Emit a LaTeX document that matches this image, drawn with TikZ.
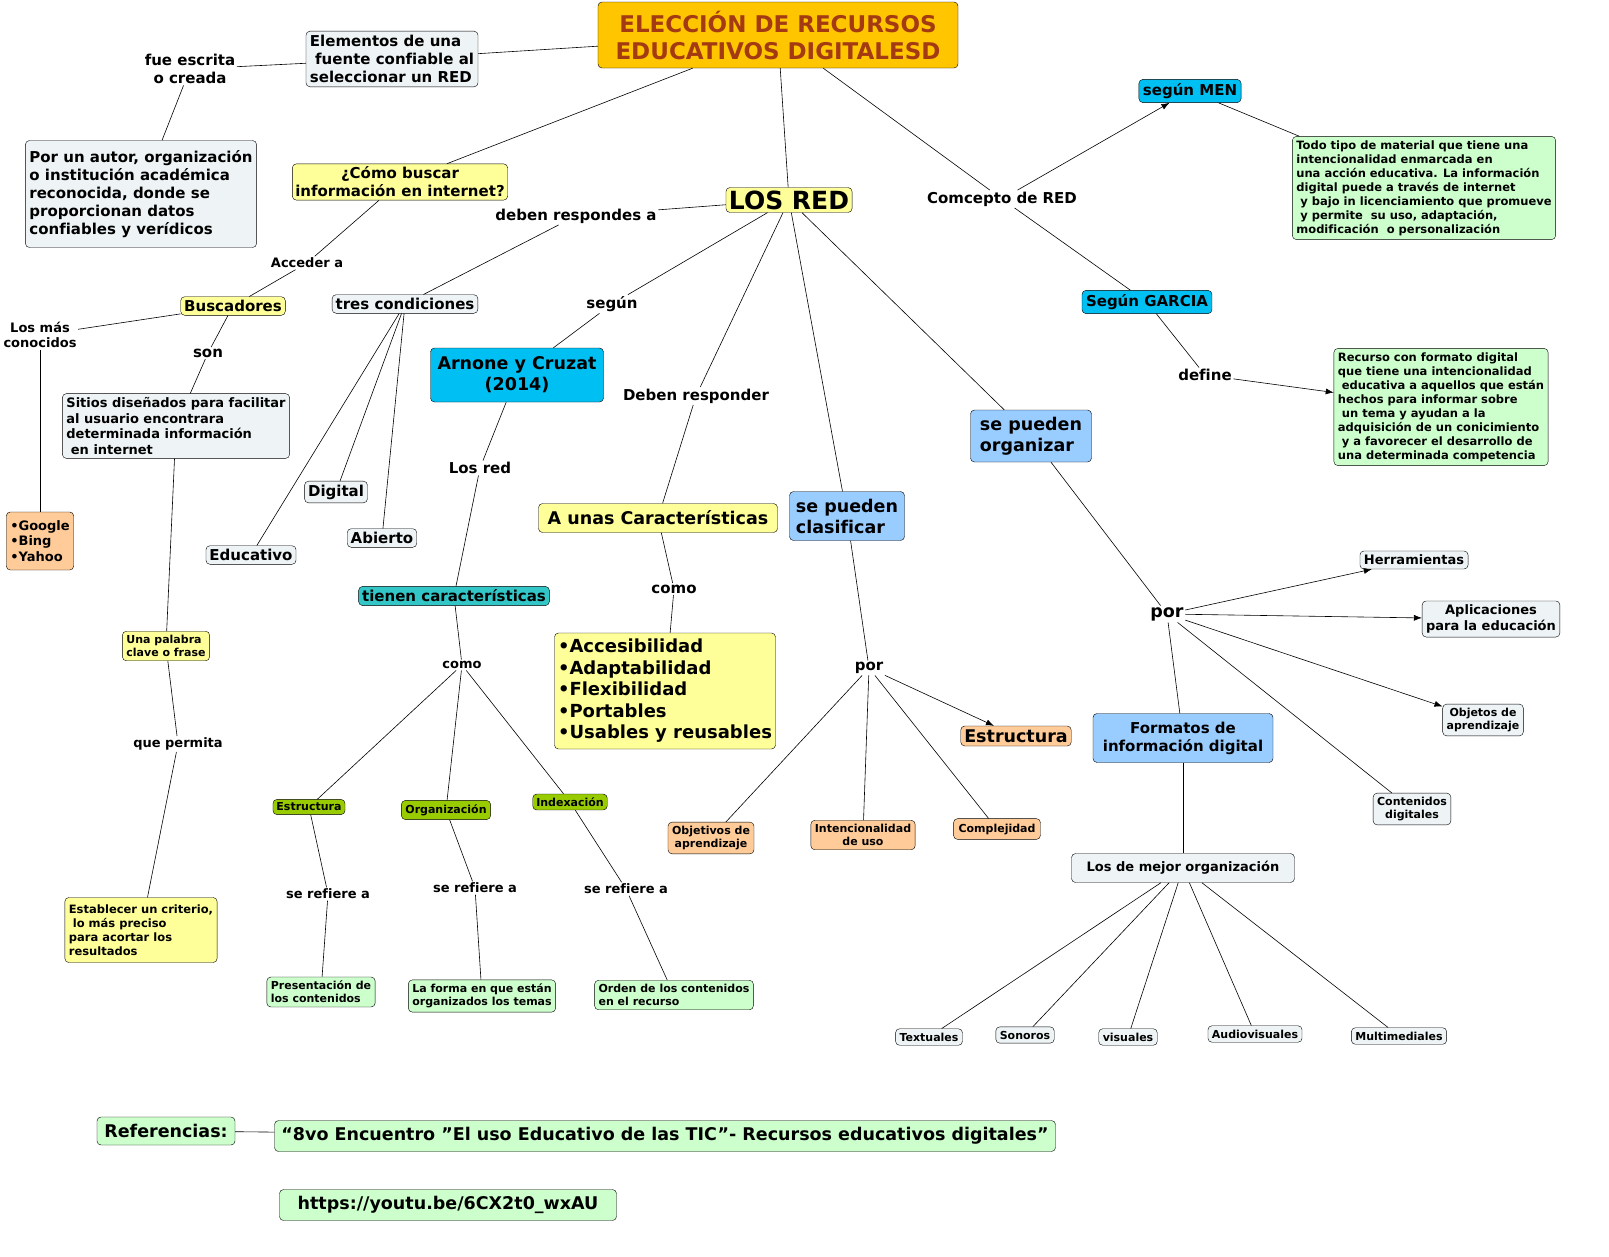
\documentclass[tikz,border=0pt]{standalone}
\usepackage{fontspec}
\setmainfont{DejaVu Sans}[Ligatures=NoCommon]
\usetikzlibrary{arrows.meta}
\definecolor{cgray}{HTML}{EEF4F6}
\definecolor{cyel}{HTML}{FFFF99}
\definecolor{ccyan}{HTML}{00BFF3}
\definecolor{cgreen}{HTML}{CCFFCC}
\definecolor{corange}{HTML}{FFCC99}
\definecolor{cblue}{HTML}{99CCFF}
\definecolor{cteal}{HTML}{33C6C6}
\definecolor{clime}{HTML}{99CC00}
\definecolor{ctitle}{HTML}{FFC600}
\definecolor{ctitletext}{HTML}{A33A12}
\begin{document}
\begin{tikzpicture}[x=1pt,y=-1pt,
 box/.style={draw, rounded corners=4pt, inner sep=4pt, align=center},
 lab/.style={inner sep=1.5pt, align=center},
 f15/.style={font=\fontsize{17.5}{21}\selectfont\bfseries},
 f13/.style={font=\fontsize{15}{18}\selectfont\bfseries},
 f11/.style={font=\fontsize{13}{15.5}\selectfont\bfseries},
 f10/.style={font=\fontsize{11.5}{14}\selectfont\bfseries},
 f9/.style={font=\fontsize{11}{13}\selectfont\bfseries},
 line/.style={draw, line width=0.6pt},
 arr/.style={draw, line width=0.6pt, -{Latex[length=8pt,width=6pt]}},
]
\useasboundingbox (0,0) rectangle (1609,1256);
% main nodes
\node[box,fill=ctitle,text=ctitletext,font=\fontsize{23}{27}\selectfont\bfseries,minimum width=360pt,minimum height=66pt] (title) at (778,35) {ELECCIÓN DE RECURSOS\\EDUCATIVOS DIGITALESD};
\node[box,fill=cgray,f13,align=left] (elem) at (392,59) {Elementos de una\\ \ fuente confiable al\\seleccionar un RED};
\node[lab,f13] (fue) at (190,69) {fue escrita\\o creada};
\node[box,fill=cgray,f13,align=left,minimum height=107pt] (autor) at (141,194) {Por un autor, organización\\o institución académica\\reconocida, donde se\\proporcionan datos\\confiables y verídicos};
\node[box,fill=cyel,f13,inner sep=3pt] (buscar) at (400,182) {¿Cómo buscar\\información en internet?};
\node[box,fill=cyel,font=\fontsize{25}{30}\selectfont\bfseries,inner sep=3pt] (red) at (789,200) {LOS RED};
\node[lab,f13] (deben) at (576,216) {deben respondes a};
\node[lab,f13] (concepto) at (1002,199) {Comcepto de RED};
\node[box,fill=ccyan,f13] (men) at (1190,91) {según MEN};
\node[box,fill=cgreen,f10,align=left] (mentext) at (1424,188) {Todo tipo de material que tiene una\\intencionalidad enmarcada en\\una acción educativa. La información\\digital puede a través de internet\\ \ y bajo in licenciamiento que promueve\\ \ y permite \ su uso, adaptación,\\modificación \ o personalización};
\node[box,fill=ccyan,f13] (garcia) at (1147,302) {Según GARCIA};
\node[lab,f13] (define) at (1205,375) {define};
\node[box,fill=cgreen,f10,align=left] (garciatext) at (1441,407) {Recurso con formato digital\\que tiene una intencionalidad\\ \ educativa a aquellos que están\\hechos para informar sobre\\ \ un tema y ayudan a la\\adquisición de un conicimiento\\ \ y a favorecer el desarrollo de\\una determinada competencia};
\node[lab,f11] (acceder) at (307,263) {Acceder a};
\node[box,fill=cyel,f13,inner sep=3.5pt] (busc) at (233,306) {Buscadores};
\node[lab,f11] (losmas) at (40,335) {Los más\\conocidos};
\node[lab,f13] (son) at (208,353) {son};
\node[box,fill=cgray,f11,align=left] (sitios) at (176,426) {Sitios diseñados para facilitar\\al usuario encontrara\\determinada información\\ \ en internet};
\node[box,fill=corange,f11,align=left,minimum height=58pt] (google) at (40,541) {\textbullet Google\\\textbullet Bing\\\textbullet Yahoo};
\node[box,fill=cyel,f9,align=left] (palabra) at (166,646) {Una palabra\\clave o frase};
\node[lab,f11] (permita) at (178,744) {que permita};
\node[box,fill=cyel,f10,align=left,minimum height=65pt] (estab) at (141,930) {Establecer un criterio,\\ \ lo más preciso\\para acortar los\\resultados};
\node[box,fill=cgray,f13,inner sep=3.5pt] (tres) at (405,304) {tres condiciones};
\node[box,fill=cgray,f13,inner sep=3.5pt] (digital) at (336,492) {Digital};
\node[box,fill=cgray,f13,inner sep=3.5pt] (abierto) at (382,538) {Abierto};
\node[box,fill=cgray,f13,inner sep=3.5pt] (educ) at (251,555) {Educativo};
\node[lab,f13] (segun) at (612,304) {según};
\node[box,fill=ccyan,f15,minimum width=173pt,minimum height=54pt] (arnone) at (517,375) {Arnone y Cruzat\\(2014)};
\node[lab,f13] (losred) at (480,468) {Los red};
\node[box,fill=cteal,f13,inner sep=3.5pt] (tienen) at (454,596) {tienen características};
\node[lab,f11] (como1) at (462,665) {como};
\node[box,fill=clime,f9,inner sep=3.5pt] (estr1) at (309,807) {Estructura};
\node[box,fill=clime,f9,inner sep=4pt] (org) at (446,810) {Organización};
\node[box,fill=clime,f9,inner sep=3.5pt] (idx) at (570,802) {Indexación};
\node[lab,f11] (ref1) at (328,894) {se refiere a};
\node[lab,f11] (ref2) at (475,888) {se refiere a};
\node[lab,f11] (ref3) at (626,889) {se refiere a};
\node[box,fill=cgreen,f9,align=left] (pres) at (321,992) {Presentación de\\los contenidos};
\node[box,fill=cgreen,f9,align=left] (forma) at (482,996) {La forma en que están\\organizados los temas};
\node[box,fill=cgreen,f9,align=left] (orden) at (674,995) {Orden de los contenidos\\en el recurso};
\node[lab,f13] (debresp) at (696,396) {Deben responder};
\node[box,fill=cyel,f15,minimum width=239pt,minimum height=29pt,inner sep=2pt] (unas) at (658,518) {A unas Características};
\node[lab,f13] (como2) at (674,589) {como};
\node[box,fill=cyel,align=left,minimum width=221pt,minimum height=116pt,font=\fontsize{18}{21.5}\selectfont\bfseries,inner sep=3pt] (lista) at (665,691) {\textbullet Accesibilidad\\\textbullet Adaptabilidad\\\textbullet Flexibilidad\\\textbullet Portables\\\textbullet Usables y reusables};
\node[box,fill=cblue,f15,align=left,minimum width=115pt,minimum height=49pt] (clasif) at (847,516) {se pueden\\clasificar};
\node[lab,f13] (por1) at (869,668) {por};
\node[box,fill=corange,f15,inner sep=3.5pt] (estr2) at (1016,736) {Estructura};
\node[box,fill=corange,f9] (obj) at (711,838) {Objetivos de\\aprendizaje};
\node[box,fill=corange,f9] (inten) at (863,835) {Intencionalidad\\de uso};
\node[box,fill=corange,f9,inner sep=5pt] (compl) at (997,829) {Complejidad};
\node[box,fill=cblue,f15,align=left,minimum width=121pt,minimum height=52pt] (organ) at (1031,436) {se pueden\\organizar};
\node[lab,f15] (por2) at (1167,614) {por};
\node[box,fill=cgray,f11,inner sep=4pt] (herr) at (1414,560) {Herramientas};
\node[box,fill=cgray,f11] (apli) at (1491,619) {Aplicaciones\\para la educación};
\node[box,fill=cgray,f9] (objap) at (1483,720) {Objetos de\\aprendizaje};
\node[box,fill=cgray,f9] (cont) at (1412,809) {Contenidos\\digitales};
\node[box,fill=cblue,f13,minimum width=180pt,minimum height=49pt,inner sep=2pt] (form) at (1183,738) {Formatos de\\información digital};
\node[box,fill=cgray,f11,minimum width=223pt,minimum height=29pt] (mejor) at (1183,868) {Los de mejor organización};
\node[box,fill=cgray,f9] (t1) at (929,1037) {Textuales};
\node[box,fill=cgray,f9] (t2) at (1025,1035) {Sonoros};
\node[box,fill=cgray,f9] (t3) at (1128,1037) {visuales};
\node[box,fill=cgray,f9] (t4) at (1255,1034) {Audiovisuales};
\node[box,fill=cgray,f9] (t5) at (1399,1036) {Multimediales};
\node[box,fill=cgreen,f15,minimum width=138pt,minimum height=28pt,inner sep=2pt] (refs) at (166,1131) {Referencias:};
\node[box,fill=cgreen,f15,minimum width=781pt,minimum height=31pt,inner sep=2pt] (quote) at (665,1136) {“8vo Encuentro \symbol{34}El uso Educativo de las TIC\symbol{34}- Recursos educativos digitales”};
\node[box,fill=cgreen,f15,minimum width=337pt,minimum height=31pt,inner sep=2pt] (url) at (448,1205) {https://youtu.be/6CX2t0\_wxAU};
% connectors
\draw[line] (title) -- (elem);
\draw[line] (elem) -- (fue); \draw[line] (fue) -- (autor);
\draw[line] (title) -- (buscar); \draw[line] (buscar) -- (acceder); \draw[line] (acceder) -- (busc);
\draw[line] (title) -- (red);
\draw[line] (title) -- (concepto); \draw[arr] (concepto) -- (men); \draw[line] (concepto) -- (garcia);
\draw[line] (men) -- (mentext);
\draw[line] (garcia) -- (define); \draw[arr] (define) -- (garciatext);
\draw[line] (red) -- (deben); \draw[line] (deben) -- (tres);
\draw[line] (tres) -- (digital); \draw[line] (tres) -- (abierto); \draw[line] (tres) -- (educ);
\draw[line] (red) -- (segun); \draw[line] (segun) -- (arnone); \draw[line] (arnone) -- (losred); \draw[line] (losred) -- (tienen);
\draw[line] (tienen) -- (como1);
\draw[line] (como1) -- (estr1); \draw[line] (como1) -- (org); \draw[line] (como1) -- (idx);
\draw[line] (estr1) -- (ref1); \draw[line] (ref1) -- (pres);
\draw[line] (org) -- (ref2); \draw[line] (ref2) -- (forma);
\draw[line] (idx) -- (ref3); \draw[line] (ref3) -- (orden);
\draw[line] (red) -- (debresp); \draw[line] (debresp) -- (unas); \draw[line] (unas) -- (como2); \draw[line] (como2) -- (lista);
\draw[line] (red) -- (clasif); \draw[line] (clasif) -- (por1);
\draw[line] (por1) -- (obj); \draw[line] (por1) -- (inten); \draw[line] (por1) -- (compl); \draw[arr] (por1) -- (estr2);
\draw[line] (red) -- (organ); \draw[line] (organ) -- (por2);
\draw[arr] (por2) -- (herr); \draw[arr] (por2) -- (apli); \draw[arr] (por2) -- (objap); \draw[line] (por2) -- (cont);
\draw[line] (por2) -- (form); \draw[line] (form) -- (mejor);
\foreach \t in {t1,t2,t3,t4,t5} \draw[line] (mejor) -- (\t);
\draw[line] (busc) -- (losmas); \draw[line] (losmas) -- (google);
\draw[line] (busc) -- (son); \draw[line] (son) -- (sitios); \draw[line] (sitios) -- (palabra);
\draw[line] (palabra) -- (permita); \draw[line] (permita) -- (estab);
\draw[line] (refs) -- (quote);
\end{tikzpicture}
\end{document}
